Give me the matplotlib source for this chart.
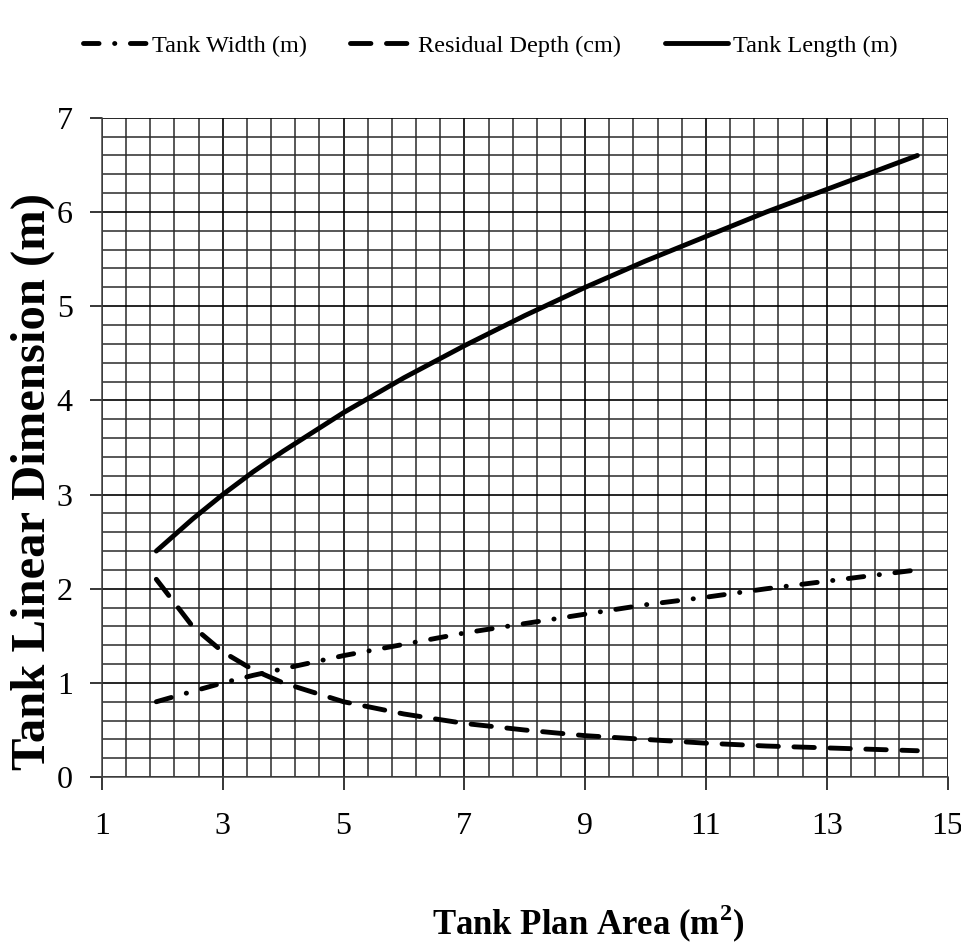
import matplotlib
matplotlib.use("Agg")
import matplotlib.pyplot as plt
import numpy as np
from matplotlib.ticker import FixedLocator

plt.rcParams['font.family'] = ['Liberation Serif', 'DejaVu Serif']
plt.rcParams['mathtext.fontset'] = 'custom'
plt.rcParams['mathtext.rm'] = 'Liberation Serif'
plt.rcParams['mathtext.bf'] = 'Liberation Serif:bold'

area = [1.9, 2.5, 3.0, 3.5, 4.0, 5.0, 6.0, 7.0, 8.0, 9.0, 10.0, 11.0, 12.0, 13.0, 14.0, 14.5]
tank_width = [0.80, 0.91, 1.00, 1.08, 1.15, 1.29, 1.41, 1.53, 1.63, 1.73, 1.83, 1.91, 2.00, 2.08, 2.16, 2.20]
residual_depth = [2.10, 1.60, 1.33, 1.14, 1.00, 0.80, 0.67, 0.57, 0.50, 0.44, 0.40, 0.36, 0.33, 0.31, 0.29, 0.28]
tank_length = [2.40, 2.74, 3.00, 3.24, 3.46, 3.87, 4.24, 4.58, 4.90, 5.20, 5.48, 5.74, 6.00, 6.24, 6.48, 6.60]

x_ticks = [1, 3, 5, 7, 9, 11, 13, 15]
y_ticks = [0, 1, 2, 3, 4, 5, 6, 7]

fig = plt.figure(figsize=(9.62, 9.5), dpi=100)
ax = fig.add_axes([0.106, 0.182, 0.879, 0.694])

ax.plot(area, tank_width, color='black', lw=3.5, dashes=(3.2, 3.2, 0.05, 3.2),
        dash_capstyle='round', label='Tank Width (m)')
ax.plot(area, residual_depth, color='black', lw=3.5, dashes=(4.2, 3.2),
        dash_capstyle='round', label='Residual Depth (cm)')
ax.plot(area, tank_length, color='black', lw=3.5, solid_capstyle='round',
        label='Tank Length (m)')

ax.set_xlim(1, 15)
ax.set_ylim(0, 7)
ax.set_xticks(x_ticks)
ax.set_yticks(y_ticks)
ax.xaxis.set_minor_locator(FixedLocator(np.arange(1, 15.01, 0.4)))
ax.yaxis.set_minor_locator(FixedLocator(np.arange(0, 7.01, 0.2)))
ax.grid(which='major', color='black', lw=1.2)
ax.grid(which='minor', color='#2a2a2a', lw=1.1)
ax.set_axisbelow(True)
ax.tick_params(axis='x', which='major', direction='out', length=9, width=1.1,
               colors='black', labelsize=23, pad=16)
ax.tick_params(axis='y', which='major', direction='out', length=9, width=1.1,
               colors='black', labelsize=23, pad=12)
ax.tick_params(which='minor', length=0)
for s in ['top', 'right']:
    ax.spines[s].set_visible(False)
for s in ['left', 'bottom']:
    ax.spines[s].set_color('#444444')
    ax.spines[s].set_linewidth(1.1)

ax.set_ylabel('Tank Linear Dimension (m)', fontsize=35, fontweight='bold')
ax.yaxis.set_label_coords(-0.056, 0.448)
ax.set_xlabel(r'Tank Plan Area (m$^\mathbf{2}$)', fontsize=25, fontweight='bold')
ax.xaxis.set_label_coords(0.575, -0.19)

fig.legend(loc='center', bbox_to_anchor=(0.51, 0.952), ncol=3, frameon=False,
           fontsize=17.5, handlelength=2.6, columnspacing=1.8, handletextpad=0.2)

fig.savefig('out.png', dpi=100)
